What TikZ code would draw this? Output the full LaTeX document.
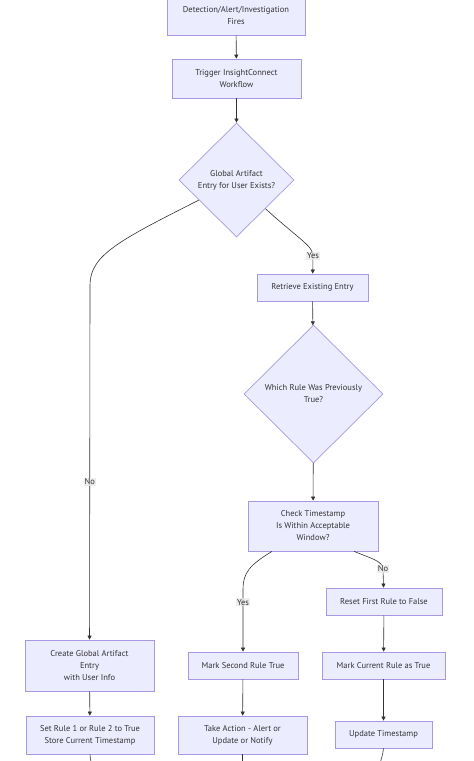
\documentclass[tikz,border=0pt]{standalone}
\usepackage{fontspec}
\setmainfont{PT Sans}
\usetikzlibrary{shapes.geometric,arrows.meta,calc}
\definecolor{nodefill}{HTML}{ECECFF}
\definecolor{nodeline}{HTML}{A898E4}
\definecolor{ink}{HTML}{333333}
\definecolor{lblbg}{HTML}{E8E8E8}
\tikzset{
  box/.style={rectangle,draw=nodeline,fill=nodefill,line width=.7pt,align=center,inner sep=0pt,text=ink,font=\fontsize{8.5}{12}\selectfont},
  dia/.style={diamond,draw=nodeline,fill=nodefill,line width=.7pt,align=center,inner sep=0pt,text=ink,font=\fontsize{8.5}{12}\selectfont},
  edge/.style={draw=ink,line width=.6pt,-{Triangle[length=4pt,width=4pt]}},
  exit/.style={draw=ink,line width=.6pt},
  lbl/.style={fill=lblbg,fill opacity=.8,text opacity=1,inner sep=1pt,text=ink,font=\fontsize{8.5}{9}\selectfont}
}

\begin{document}
\begin{tikzpicture}[x=1pt,y=-1pt]
  \clip (0,0) rectangle (474,761);
  % nodes
  \node[box,minimum width=138pt,minimum height=38pt] (fires) at (236,16) {Detection/Alert/Investigation\\Fires};
  \node[box,minimum width=129pt,minimum height=39pt] (trigger) at (236.5,78.5) {Trigger InsightConnect\\Workflow};
  \node[dia,minimum width=115pt,minimum height=114pt] (exists) at (236.5,180) {Global Artifact\\Entry for User Exists?};
  \node[box,minimum width=111pt,minimum height=27pt] (retrieve) at (312.5,287.5) {Retrieve Existing Entry};
  \node[dia,minimum width=139pt,minimum height=138pt] (which) at (313.5,394) {Which Rule Was Previously\\True?};
  \node[box,minimum width=130pt,minimum height=50pt] (check) at (313,526) {Check Timestamp\\Is Within Acceptable\\Window?};
  \node[box,minimum width=116pt,minimum height=27pt] (reset) at (384,601.5) {Reset First Rule to False};
  \node[box,minimum width=129pt,minimum height=51pt] (create) at (89.5,665.5) {Create Global Artifact\\Entry\\with User Info};
  \node[box,minimum width=110pt,minimum height=27pt] (marksecond) at (243,665.5) {Mark Second Rule True};
  \node[box,minimum width=123pt,minimum height=27pt] (markcur) at (383.5,665.5) {Mark Current Rule as True};
  \node[box,minimum width=128pt,minimum height=38pt] (setrule) at (90,735) {Set Rule 1 or Rule 2 to True\\Store Current Timestamp};
  \node[box,minimum width=129pt,minimum height=38pt] (action) at (242.5,735) {Take Action - Alert or\\Update or Notify};
  \node[box,minimum width=97pt,minimum height=27pt] (update) at (383.5,734.5) {Update Timestamp};
  \coordinate (outL) at (94,775);
  \coordinate (outM) at (242.5,775);
  \coordinate (outR) at (378,775);
  % edges
  \draw[edge] (fires) -- (trigger);
  \draw[edge] (trigger) -- (exists);
  \draw[edge] ($(exists.west)!.35!(exists.south)$) .. controls (120,240) and (90,255) .. (90,285)
    -- node[lbl,pos=.555] {No} (create);
  \draw[edge] (exists.south east) .. controls (300,240) and (313,246) .. (313,256) node[lbl] {Yes} -- (retrieve);
  \draw[edge] (retrieve) -- (which);
  \draw[edge] (which) -- (check);
  \draw[edge] ([xshift=-41pt]check.south) .. controls (250,565) and (243,572) .. (243,590)
    -- node[lbl,pos=.2] {Yes} (marksecond);
  \draw[edge] ([xshift=41pt]check.south) .. controls (370,558) and (383,561) .. (383,569) node[lbl] {No} -- (reset);
  \draw[edge] (reset) -- (markcur);
  \draw[edge] (create) -- (setrule);
  \draw[edge] (marksecond) -- (action);
  \draw[edge] (markcur) -- (update);
  \draw[exit] (setrule.south) .. controls (90,760) and (92,764) .. (outL);
  \draw[exit] (action.south) -- (outM);
  \draw[exit] (update.south) .. controls (383,756) and (380,760) .. (outR);
\end{tikzpicture}
\end{document}
